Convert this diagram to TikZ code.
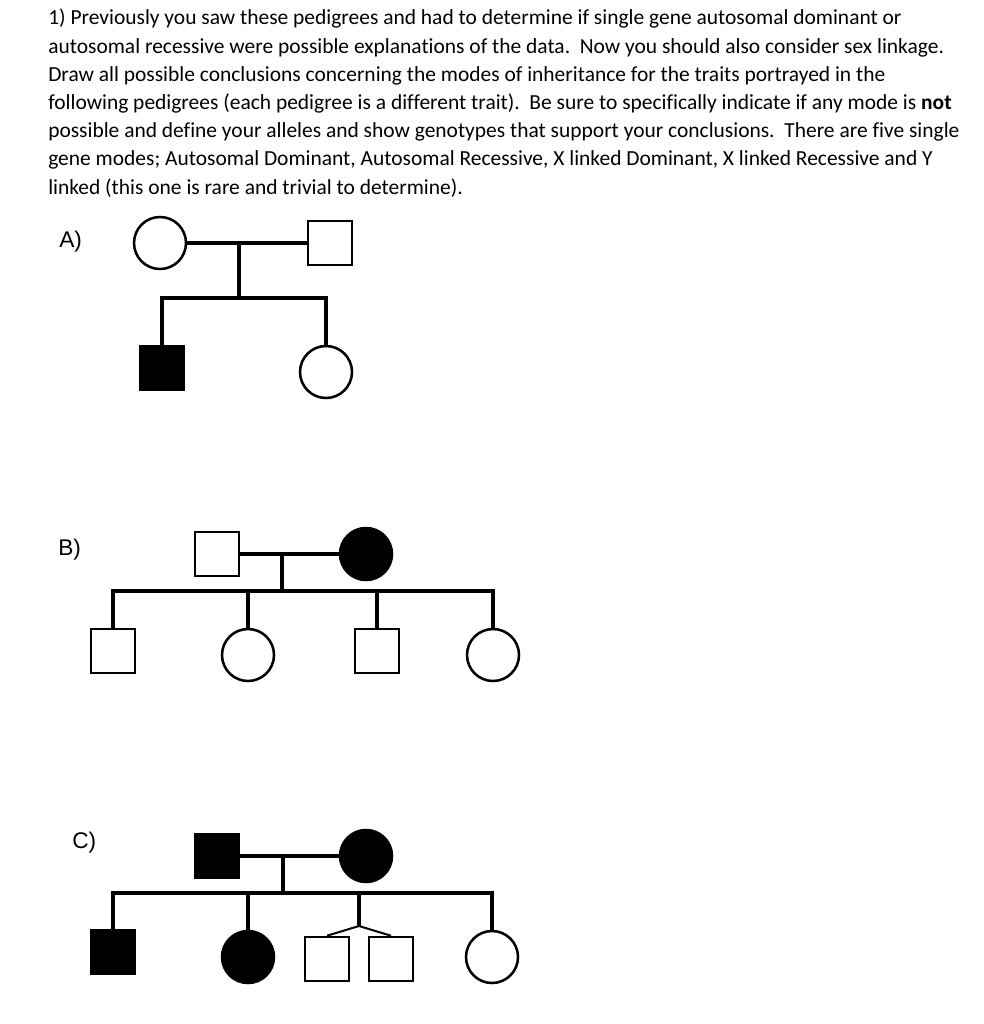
\documentclass[tikz,border=0pt]{standalone}
\usepackage{fontspec}
\setmainfont[Ligatures=NoCommon]{Carlito}
\newfontfamily\labelfont{Liberation Sans}
\usetikzlibrary{positioning,calc}

\begin{document}
\begin{tikzpicture}[x=0.75pt, y=-0.75pt,
    male/.style={rectangle, draw, line width=1.9pt, minimum size=33pt, inner sep=0pt},
    female/.style={circle, draw, line width=1.9pt, minimum size=39pt, inner sep=0pt},
    aff/.style={fill=black},
    link/.style={line width=2.3pt},
    twin/.style={line width=1.5pt},
    tag/.style={font=\labelfont\fontsize{17}{20}\selectfont, anchor=base west, inner sep=0pt}]

    \fill[white] (0,0) rectangle (984,1024);
    \useasboundingbox (0,0) rectangle (984,1024);

    \node[anchor=north west, inner sep=0pt, align=left, font=\fontsize{16.1}{21.15}\selectfont] (question) at (48,9)
    {1) Previously you saw these pedigrees and had to determine if single gene autosomal dominant or\\
     autosomal recessive were possible explanations of the data.\ \ Now you should also consider sex linkage.\\
     Draw all possible conclusions concerning the modes of inheritance for the traits portrayed in the\\
     following pedigrees (each pedigree is a different trait).\ \ Be sure to specifically indicate if any mode is \textbf{not}\\
     possible and define your alleles and show genotypes that support your conclusions.\ \ There are five single\\
     gene modes; Autosomal Dominant, Autosomal Recessive, X linked Dominant, X linked Recessive and Y\\
     linked (this one is rare and trivial to determine).};

    % pedigree A
    \node[tag] (labA) at (59,247) {A)};
    \node[female] (moA) at (160,243) {};
    \node[male] (faA) at (330,243) {};
    \node[male, aff] (sonA) at (162,368) {};
    \node[female] (dauA) at (326,372) {};
    \coordinate (mA) at (239,243);
    \coordinate (sA) at (239,298);
    \draw[link] (moA) -- (faA);
    \draw[link] (mA) -- (sA);
    \draw[link] (sonA) |- (sA) -| (dauA);

    % pedigree B
    \node[tag] (labB) at (58,555) {B)};
    \node[male] (faB) at (217,554) {};
    \node[female, aff] (moB) at (366,554) {};
    \node[male] (b1) at (113,651) {};
    \node[female] (b2) at (248,655) {};
    \node[male] (b3) at (377,651) {};
    \node[female] (b4) at (493,655) {};
    \coordinate (mB) at (282,554);
    \coordinate (sB) at (282,591);
    \draw[link] (faB) -- (moB);
    \draw[link] (mB) -- (sB);
    \draw[link] (b1) |- (sB) -| (b4);
    \draw[link] (b2) -- (b2 |- sB);
    \draw[link] (b3) -- (b3 |- sB);

    % pedigree C
    \node[tag] (labC) at (72,848) {C)};
    \node[male, aff] (faC) at (217,856) {};
    \node[female, aff] (moC) at (366,856) {};
    \node[male, aff] (c1) at (113,952) {};
    \node[female, aff] (c2) at (248,957) {};
    \node[male] (twL) at (327,959) {};
    \node[male] (twR) at (391,959) {};
    \node[female] (c4) at (492,957) {};
    \coordinate (mC) at (283,856);
    \coordinate (sC) at (283,893);
    \coordinate (tw) at (359,926);
    \draw[link] (faC) -- (moC);
    \draw[link] (mC) -- (sC);
    \draw[link] (c1) |- (sC) -| (c4);
    \draw[link] (c2) -- (c2 |- sC);
    \draw[link] (tw) -- (tw |- sC);
    \draw[twin] (twL.north) -- (tw) -- (twR.north);
\end{tikzpicture}
\end{document}
